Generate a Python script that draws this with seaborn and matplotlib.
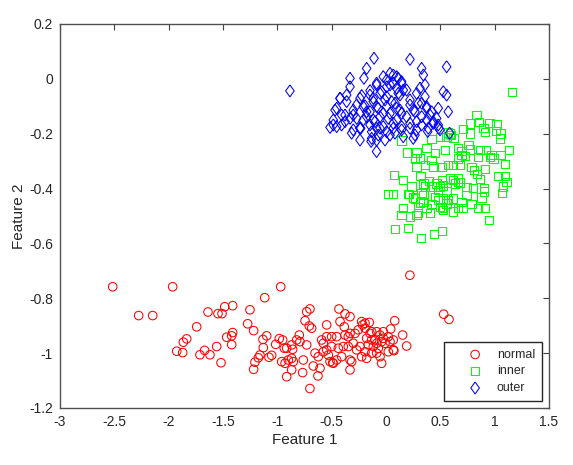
import seaborn as sns
import matplotlib.pyplot as plt
from matplotlib.ticker import FuncFormatter

# values
normal_x = [-2.515, -1.963, -0.969, -1.116, -2.276, -2.147, -1.484, -1.411, -1.638, -1.546,
            -1.509, -1.252, -1.742, -1.834, -1.865, -1.926, -1.871, -1.712, -1.669, -1.620,
            -1.558, -1.518, -1.466, -1.411, -1.420, -1.420, -1.273, -1.218, -1.132, -1.098,
            -1.129, -1.160, -1.175, -1.077, -1.052, -1.206, -1.218, -1.015, -0.982, -0.951,
            -0.936, -0.914, -0.960, -0.929, -0.899, -0.914, -0.700, -0.730, -0.745, -0.706,
            -0.684, -0.546, -0.433, -0.377, -0.331, -0.423, -0.384, -0.224, -0.193, -0.154,
            -0.215, 0.080, 0.043, 0.153, 0.190, 0.073, 0.531, 0.580, 0.220, -0.798,
            -0.822, -0.792, -0.730, -0.868, -0.859, -0.868, -0.853, -0.868, -0.761, -0.767,
            -0.700, -0.669, -0.607, -0.626, -0.653, -0.623, -0.577, -0.592, -0.546, -0.577,
            -0.546, -0.531, -0.500, -0.515, -0.485, -0.454, -0.500, -0.454, -0.439, -0.408,
            -0.393, -0.377, -0.347, -0.331, -0.331, -0.316, -0.331, -0.285, -0.255, -0.239,
            -0.224, -0.193, -0.178, -0.147, -0.132, -0.163, -0.117, -0.132, -0.101, -0.086,
            -0.071, -0.086, -0.055, -0.040, -0.055, -0.025, -0.009, -0.040, 0.021, 0.037,
            0.067, 0.021, 0.067, -0.086, -0.025, -0.132, -0.270, -0.301, -0.347, -0.178,
            -0.193, -0.490]
normal_y = [-0.758, -0.758, -0.758, -0.798, -0.863, -0.863, -0.831, -0.827, -0.850, -0.856,
            -0.856, -0.842, -0.904, -0.948, -0.960, -0.993, -0.998, -1.006, -0.990, -1.006,
            -0.976, -1.035, -0.942, -0.925, -0.937, -0.969, -0.893, -0.918, -0.950, -0.937,
            -0.980, -1.007, -1.017, -1.015, -1.008, -1.033, -1.059, -0.968, -0.947, -0.952,
            -0.982, -0.982, -1.031, -1.037, -1.025, -1.086, -0.839, -0.849, -0.882, -0.901,
            -0.909, -0.897, -0.839, -0.857, -0.867, -0.885, -0.904, -0.885, -0.891, -0.888,
            -0.897, -0.882, -0.912, -0.934, -0.974, -0.991, -0.858, -0.877, -0.716, -0.934,
            -0.952, -0.958, -0.970, -0.970, -0.986, -1.019, -1.031, -1.061, -1.025, -1.071,
            -1.129, -1.047, -1.055, -1.083, -1.000, -1.013, -0.995, -0.952, -0.940, -0.964,
            -0.988, -1.007, -0.976, -1.031, -1.037, -1.025, -0.940, -0.940, -0.982, -1.013,
            -0.976, -0.934, -0.940, -0.928, -1.025, -1.031, -1.061, -0.928, -0.915, -0.976,
            -1.013, -0.995, -0.946, -0.928, -0.952, -0.970, -0.976, -1.000, -0.952, -0.964,
            -0.982, -1.000, -1.013, -1.037, -0.934, -0.946, -0.964, -0.958, -0.940, -0.958,
            -0.952, -0.995, -0.988, -0.922, -0.922, -0.922, -0.988, -0.964, -0.976, -1.019,
            -0.909, -1.035]

inner_x = [1.159, 0.834, 0.855, 0.773, 0.896, 0.951, 1.018, 0.911, 1.012, 1.055,
           1.049, 0.711, 0.773, 0.589, 0.558, 0.497, 0.420, 0.144, 0.196, 0.282,
           0.374, 0.451, 0.543, 0.665, 0.696, 0.758, 0.773, 0.865, 0.920, 0.972,
           1.055, 1.132, 0.267, 0.313, 0.282, 0.359, 0.420, 0.435, 0.513, 0.573,
           0.619, 0.665, 0.696, 0.681, 0.727, 0.788, 0.810, 0.840, 0.911, 0.849,
           0.957, 0.988, 1.095, 1.028, 1.095, 1.110, 1.074, 1.065, 0.073, 0.154,
           0.236, 0.021, 0.062, 0.213, 0.319, 0.344, 0.359, 0.328, 0.251, 0.344,
           0.398, 0.466, 0.513, 0.497, 0.527, 0.589, 0.619, 0.665, 0.665, 0.558,
           0.635, 0.681, 0.742, 0.803, 0.865, 0.902, 0.902, 0.205, 0.267, 0.313,
           0.344, 0.420, 0.481, 0.497, 0.527, 0.573, 0.619, 0.696, 0.742, 0.788,
           0.849, 0.880, 0.911, 0.159, 0.144, 0.221, 0.282, 0.297, 0.374, 0.405,
           0.513, 0.527, 0.619, 0.665, 0.711, 0.948, 0.083, 0.200, 0.322, 0.442,
           0.513, 0.297, 0.481, 0.558, 0.420, 0.451, 0.600, 0.570, 0.620]
inner_y = [-0.048, -0.131, -0.157, -0.163, -0.178, -0.160, -0.166, -0.193, -0.190, -0.199,
           -0.217, -0.184, -0.199, -0.199, -0.211, -0.211, -0.220, -0.225, -0.269, -0.268,
           -0.253, -0.271, -0.259, -0.253, -0.262, -0.241, -0.257, -0.259, -0.259, -0.277,
           -0.277, -0.259, -0.290, -0.290, -0.320, -0.314, -0.296, -0.320, -0.322, -0.314,
           -0.314, -0.290, -0.277, -0.314, -0.281, -0.322, -0.332, -0.347, -0.329, -0.286,
           -0.284, -0.290, -0.310, -0.354, -0.353, -0.375, -0.393, -0.417, -0.351, -0.369,
           -0.393, -0.420, -0.420, -0.420, -0.354, -0.381, -0.393, -0.417, -0.432, -0.423,
           -0.373, -0.381, -0.369, -0.393, -0.389, -0.363, -0.369, -0.375, -0.363, -0.411,
           -0.381, -0.378, -0.395, -0.399, -0.364, -0.399, -0.411, -0.420, -0.436, -0.451,
           -0.448, -0.456, -0.442, -0.466, -0.436, -0.442, -0.436, -0.448, -0.424, -0.456,
           -0.470, -0.432, -0.472, -0.472, -0.496, -0.502, -0.496, -0.468, -0.472, -0.490,
           -0.472, -0.478, -0.484, -0.472, -0.470, -0.515, -0.548, -0.543, -0.580, -0.565,
           -0.554, -0.490, -0.405, -0.454, -0.393, -0.430, -0.205, -0.195, -0.215]

outer_x = [-0.884, -0.110, 0.221, 0.558, -0.178, -0.203, -0.331, -0.331, -0.423, -0.362,
           -0.469, -0.485, -0.515, -0.454, -0.408, -0.377, -0.331, -0.301, -0.270, -0.233,
           -0.224, -0.193, -0.147, -0.117, -0.086, -0.055, -0.025, 0.006, -0.009, 0.037,
           0.067, 0.098, 0.144, 0.113, 0.006, 0.037, 0.083, 0.129, 0.098, 0.067,
           -0.147, -0.117, -0.086, -0.055, -0.086, -0.025, -0.132, -0.178, -0.209, 0.190,
           0.221, 0.251, 0.282, 0.297, 0.328, 0.344, 0.359, 0.374, 0.328, 0.374,
           0.420, 0.481, 0.573, 0.527, 0.558, 0.466, 0.497, 0.435, 0.389, 0.144,
           0.221, 0.282, 0.328, 0.159, 0.251, -0.086, -0.009, 0.037, -0.239, -0.316,
           -0.362, -0.087, -0.137, -0.240, 0.384, 0.485, 0.585, 0.067, 0.113, 0.144,
           0.098, 0.037, 0.006, -0.086, -0.040, 0.006, 0.052, 0.129, 0.159, -0.147,
           -0.117, -0.071, -0.025, 0.021, 0.067, -0.178, -0.209, -0.147, -0.101, -0.055,
           0.006, 0.098, 0.144, 0.190, 0.221, 0.267, -0.239, -0.270, -0.301, -0.423,
           -0.454, -0.485, -0.377, -0.408, -0.239, 0.313, 0.359, 0.328, 0.374, 0.405,
           0.435, 0.481, 0.282, 0.221, 0.144, 0.083, 0.267, -0.132, -0.071, -0.301]
outer_y = [-0.044, 0.075, 0.071, 0.044, 0.038, 0.002, 0.002, -0.029, -0.071, -0.083,
           -0.114, -0.150, -0.177, -0.174, -0.132, -0.156, -0.144, -0.114, -0.144, -0.180,
           -0.061, -0.098, -0.043, -0.071, -0.016, -0.053, 0.008, -0.029, -0.077, 0.020,
           -0.016, 0.008, -0.010, -0.053, -0.101, -0.126, -0.089, -0.114, -0.150, -0.180,
           -0.120, -0.150, -0.101, -0.138, -0.180, -0.174, -0.193, -0.138, -0.101, -0.041,
           -0.077, -0.114, -0.053, -0.089, 0.038, 0.014, -0.065, -0.101, -0.138, -0.150,
           -0.120, -0.107, -0.120, -0.047, -0.059, -0.144, -0.186, -0.162, -0.180, -0.174,
           -0.162, -0.186, -0.168, -0.211, -0.217, -0.223, -0.223, -0.205, -0.223, -0.198,
           -0.059, -0.265, -0.228, -0.180, -0.192, -0.180, -0.198, 0.014, 0.002, -0.016,
           -0.035, -0.022, -0.004, -0.022, -0.047, -0.065, -0.083, -0.059, -0.041, -0.059,
           -0.083, -0.107, -0.126, -0.144, -0.162, -0.120, -0.150, -0.168, -0.156, -0.180,
           -0.193, -0.107, -0.126, -0.138, -0.095, -0.120, -0.071, -0.095, -0.132, -0.071,
           -0.107, -0.168, -0.132, -0.168, -0.180, -0.034, -0.022, -0.089, -0.107, -0.132,
           -0.156, -0.168, -0.156, -0.180, -0.186, -0.198, -0.205, -0.217, -0.205, -0.186]

x_ticks = [-3, -2.5, -2, -1.5, -1, -0.5, 0, 0.5, 1, 1.5]
y_ticks = [0.2, 0, -0.2, -0.4, -0.6, -0.8, -1, -1.2]

sns.set_style('white')
plt.rcParams['font.family'] = ['Liberation Sans', 'DejaVu Sans']
plt.rcParams['axes.unicode_minus'] = False

fig = plt.figure(figsize=(5.73, 4.65), dpi=100)
ax = fig.add_axes([0.1047, 0.1226, 0.8534, 0.8258])

# slightly narrow diamond, like matlab's 'd'
diamond = [(0, 1), (0.72, 0), (0, -1), (-0.72, 0), (0, 1)]

groups = [
    (normal_x, normal_y, 'normal', 'o', 38, '#ff0000'),
    (inner_x, inner_y, 'inner', 's', 36, '#00ff00'),
    (outer_x, outer_y, 'outer', diamond, 74, '#0000ff'),
]
for xs, ys, name, m, size, col in groups:
    sns.scatterplot(x=xs, y=ys, marker=m, s=size, facecolor='none', edgecolor=col,
                    linewidth=0.75, label=name, ax=ax)

ax.set_xlim(-3, 1.5)
ax.set_ylim(-1.2, 0.2)
ax.set_xticks(x_ticks)
ax.set_yticks(y_ticks)
fmt = FuncFormatter(lambda v, p: '%g' % round(v, 2) if abs(v) > 1e-9 else '0')
ax.xaxis.set_major_formatter(fmt)
ax.yaxis.set_major_formatter(fmt)
ax.tick_params(direction='in', top=True, right=True, length=4, width=0.8,
               color='#404040', labelcolor='#262626', labelsize=10, pad=5)
for sp in ax.spines.values():
    sp.set_color('#505050')
    sp.set_linewidth(1.0)

ax.set_xlabel('Feature 1', fontsize=11, color='#262626', labelpad=3)
ax.set_ylabel('Feature 2', fontsize=11, color='#262626', labelpad=2)

leg = ax.legend(loc='lower right', fontsize=9, frameon=True, fancybox=False,
                framealpha=1, edgecolor='#262626', handletextpad=-0.2,
                borderaxespad=0.55, labelspacing=0.38, borderpad=0.55,
                handlelength=3.9)
leg.get_frame().set_linewidth(1.0)

fig.savefig('out.png', dpi=100)
